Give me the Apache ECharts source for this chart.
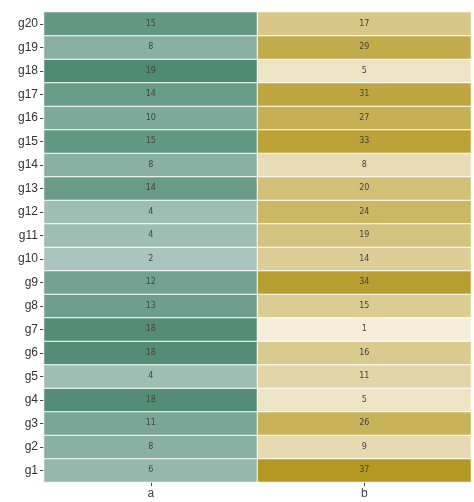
<!DOCTYPE html>
<html><head><meta charset="utf-8">
<script src="https://cdn.jsdelivr.net/npm/echarts@6/dist/echarts.min.js"></script>
<style>html,body{margin:0;padding:0;background:#fff}#c{width:474px;height:502px}</style>
</head><body><div id="c"></div>
<script>
const groups = ['g1','g2','g3','g4','g5','g6','g7','g8','g9','g10','g11','g12','g13','g14','g15','g16','g17','g18','g19','g20'];
const cols = ['a','b'];
const valuesA = [6,8,11,18,4,18,18,13,12,2,4,4,14,8,15,10,14,19,8,15];
const valuesB = [37,9,26,5,11,16,1,15,34,14,19,24,20,8,33,27,31,5,29,17];
const dataA = valuesA.map((v,i)=>[0,i,v]);
const dataB = valuesB.map((v,i)=>[1,i,v]);
const chart = echarts.init(document.getElementById('c'));
const lbl = {show:true,fontSize:8,color:'#444',fontFamily:'DejaVu Sans'};
chart.setOption({
  animation:false,
  grid:{left:44,right:3,top:12,bottom:20},
  xAxis:{type:'category',data:cols,axisLine:{show:false},axisTick:{show:true,alignWithLabel:true,length:4,lineStyle:{color:'#444'}},
    axisLabel:{color:'#444',fontSize:12,margin:6},splitLine:{show:false}},
  yAxis:{type:'category',data:groups,axisLine:{show:false},axisTick:{show:true,alignWithLabel:true,length:4,lineStyle:{color:'#444'}},
    axisLabel:{color:'#333',fontSize:12,margin:6},splitLine:{show:false}},
  visualMap:[
    {show:false,seriesIndex:0,min:2,max:19,dimension:2,inRange:{color:['#a9c5bd','#4e8a74']}},
    {show:false,seriesIndex:1,min:1,max:37,dimension:2,inRange:{color:['#f4edda','#b49822']}}
  ],
  series:[
    {type:'heatmap',data:dataA,label:lbl,itemStyle:{borderColor:'#fff',borderWidth:1}},
    {type:'heatmap',data:dataB,label:lbl,itemStyle:{borderColor:'#fff',borderWidth:1}}
  ]
});
</script></body></html>
